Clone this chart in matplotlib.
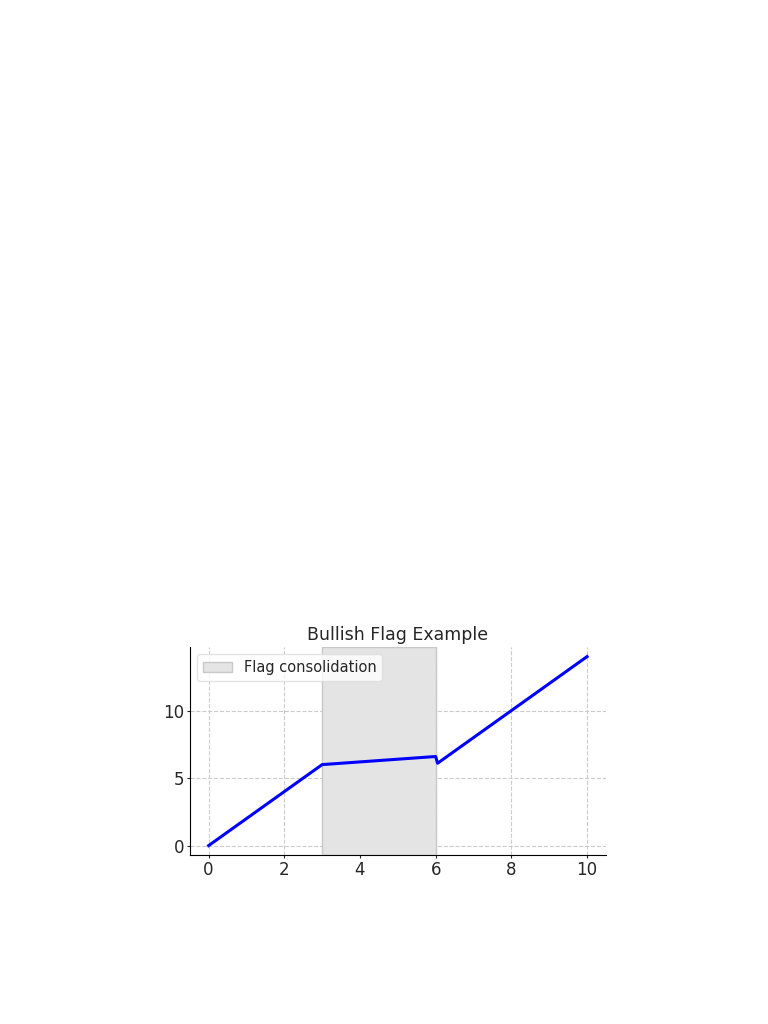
import matplotlib.pyplot as plt

# price path for the flag pattern
x = [0, 3, 6, 6.05, 10]
price = [0, 6, 6.6, 6.1, 14]
flag_start = 3
flag_end = 6

fig = plt.figure(figsize=(7.68, 10.24), dpi=100)
ax = fig.add_axes([0.247, 0.165, 0.542, 0.203])

ax.axvspan(flag_start, flag_end, facecolor='#e4e4e4', edgecolor='#c8c8c8',
           linewidth=1, label='Flag consolidation', zorder=1)
ax.plot(x, price, color='blue', linewidth=2.2, zorder=3)

ax.set_title('Bullish Flag Example', fontsize=12.5, color='#262626', pad=5)
ax.grid(True, linestyle='--', color='#cccccc', linewidth=0.8, zorder=0)
ax.set_axisbelow(True)
ax.spines['top'].set_visible(False)
ax.spines['right'].set_visible(False)
ax.tick_params(labelsize=12, length=2.5, pad=1.5, colors='#262626')
ax.set_xticks([0, 2, 4, 6, 8, 10])
ax.set_yticks([0, 5, 10])
leg = ax.legend(loc='upper left', fontsize=10.5, frameon=True, edgecolor='#dddddd')
for t in leg.get_texts():
    t.set_color('#262626')

plt.savefig('out.png')
